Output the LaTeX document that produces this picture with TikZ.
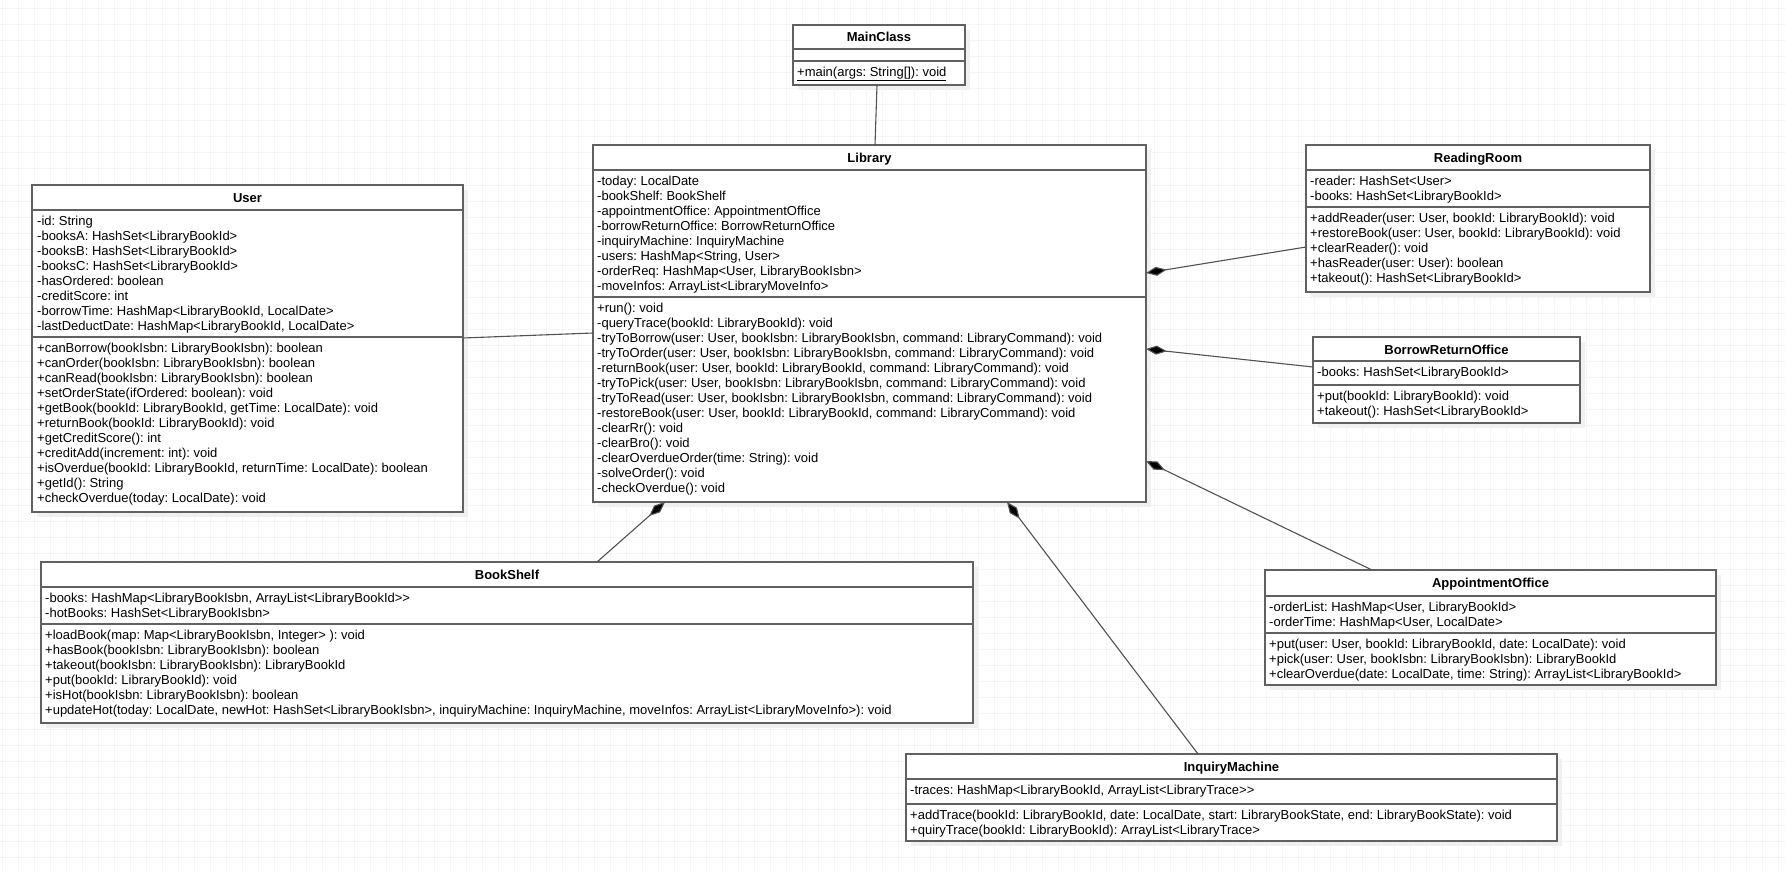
\documentclass[tikz,border=0pt]{standalone}
\usepackage{fontspec}
\setmainfont{Liberation Sans}
\usetikzlibrary{arrows.meta}
\frenchspacing
\newcommand\umlbox[8]{%
  \fill[shadowc] (#2+5,#3+5) rectangle (#4+5,#5+5);
  \node[classbox, minimum width={#4-#2}, minimum height={#5-#3}, anchor=north west] (#1) at (#2,#3) {};
  \draw[boxline] (#2,#6) -- (#4,#6);
  \draw[boxline] (#2,#7) -- (#4,#7);
  \node[titletext] (#1-title) at ({(#2+#4)/2},#3+17) {#8};
}
\begin{document}
\begin{tikzpicture}[x=1pt,y=-1pt,
  classbox/.style={draw=black!62, line width=1.3pt, fill=white, inner sep=0pt, outer sep=0pt, rectangle},
  boxline/.style={draw=black!62, line width=1.3pt},
  titletext/.style={font=\fontsize{13}{15}\selectfont\bfseries\frenchspacing, inner sep=0pt, anchor=base},
  membertext/.style={font=\fontsize{13}{15}\selectfont\frenchspacing, align=left, inner sep=0pt, anchor=north west},
  assoc/.style={draw=black!68, line width=1.1pt},
  comp/.style={assoc, {Diamond[length=21pt,width=9pt,fill=black]}-},
  shadowc/.style={fill=black!6},
  gridc/.style={draw=black!4, line width=1pt}]
\useasboundingbox (0,0) rectangle (1786,872);
\fill[white] (0,0) rectangle (1786,872);
\foreach \gx in {2,18,...,1786} \draw[gridc] (\gx,0) -- (\gx,872);
\foreach \gy in {9,25,...,872} \draw[gridc] (0,\gy) -- (1786,\gy);

% MainClass
\umlbox{main}{793}{25}{965}{85}{49}{61}{MainClass}
\node[membertext] (main-m) at (797,65.5) {\strut\underline{+main(args: String[]): void}};

% Library
\umlbox{lib}{593}{145}{1146}{502}{170}{297}{Library}
\node[membertext] (lib-a) at (597,174.5) {\strut -today: LocalDate\\
-bookShelf: BookShelf\\
-appointmentOffice: AppointmentOffice\\
-borrowReturnOffice: BorrowReturnOffice\\
-inquiryMachine: InquiryMachine\\
-users: HashMap<String, User>\\
-orderReq: HashMap<User, LibraryBookIsbn>\\
-moveInfos: ArrayList<LibraryMoveInfo>};
\node[membertext] (lib-m) at (597,301.5) {\strut +run(): void\\
-queryTrace(bookId: LibraryBookId): void\\
-tryToBorrow(user: User, bookIsbn: LibraryBookIsbn, command: LibraryCommand): void\\
-tryToOrder(user: User, bookIsbn: LibraryBookIsbn, command: LibraryCommand): void\\
-returnBook(user: User, bookId: LibraryBookId, command: LibraryCommand): void\\
-tryToPick(user: User, bookIsbn: LibraryBookIsbn, command: LibraryCommand): void\\
-tryToRead(user: User, bookIsbn: LibraryBookIsbn, command: LibraryCommand): void\\
-restoreBook(user: User, bookId: LibraryBookId, command: LibraryCommand): void\\
-clearRr(): void\\
-clearBro(): void\\
-clearOverdueOrder(time: String): void\\
-solveOrder(): void\\
-checkOverdue(): void};

% User
\umlbox{user}{32}{185}{463}{512}{210}{337}{User}
\node[membertext] (user-a) at (37,214.5) {\strut -id: String\\
-booksA: HashSet<LibraryBookId>\\
-booksB: HashSet<LibraryBookId>\\
-booksC: HashSet<LibraryBookId>\\
-hasOrdered: boolean\\
-creditScore: int\\
-borrowTime: HashMap<LibraryBookId, LocalDate>\\
-lastDeductDate: HashMap<LibraryBookId, LocalDate>};
\node[membertext] (user-m) at (37,341.5) {\strut +canBorrow(bookIsbn: LibraryBookIsbn): boolean\\
+canOrder(bookIsbn: LibraryBookIsbn): boolean\\
+canRead(bookIsbn: LibraryBookIsbn): boolean\\
+setOrderState(ifOrdered: boolean): void\\
+getBook(bookId: LibraryBookId, getTime: LocalDate): void\\
+returnBook(bookId: LibraryBookId): void\\
+getCreditScore(): int\\
+creditAdd(increment: int): void\\
+isOverdue(bookId: LibraryBookId, returnTime: LocalDate): boolean\\
+getId(): String\\
+checkOverdue(today: LocalDate): void};

% ReadingRoom
\umlbox{rr}{1306}{145}{1650}{292}{170}{207}{ReadingRoom}
\node[membertext] (rr-a) at (1310,174.5) {\strut -reader: HashSet<User>\\
-books: HashSet<LibraryBookId>};
\node[membertext] (rr-m) at (1310,211.5) {\strut +addReader(user: User, bookId: LibraryBookId): void\\
+restoreBook(user: User, bookId: LibraryBookId): void\\
+clearReader(): void\\
+hasReader(user: User): boolean\\
+takeout(): HashSet<LibraryBookId>};

% BorrowReturnOffice
\umlbox{bro}{1313}{337}{1580}{423}{361}{385}{BorrowReturnOffice}
\node[membertext] (bro-a) at (1317,365.5) {\strut -books: HashSet<LibraryBookId>};
\node[membertext] (bro-m) at (1317,389.5) {\strut +put(bookId: LibraryBookId): void\\
+takeout(): HashSet<LibraryBookId>};

% BookShelf
\umlbox{bs}{41}{562}{973}{723}{587}{624}{BookShelf}
\node[membertext] (bs-a) at (45,591.5) {\strut -books: HashMap<LibraryBookIsbn, ArrayList<LibraryBookId>{}>\\
-hotBooks: HashSet<LibraryBookIsbn>};
\node[membertext] (bs-m) at (45,628.5) {\strut +loadBook(map: Map<LibraryBookIsbn, Integer> ): void\\
+hasBook(bookIsbn: LibraryBookIsbn): boolean\\
+takeout(bookIsbn: LibraryBookIsbn): LibraryBookId\\
+put(bookId: LibraryBookId): void\\
+isHot(bookIsbn: LibraryBookIsbn): boolean\\
+updateHot(today: LocalDate, newHot: HashSet<LibraryBookIsbn>, inquiryMachine: InquiryMachine, moveInfos: ArrayList<LibraryMoveInfo>): void};

% AppointmentOffice
\umlbox{ao}{1265}{570}{1716}{685}{596}{633}{AppointmentOffice}
\node[membertext] (ao-a) at (1269,600.5) {\strut -orderList: HashMap<User, LibraryBookId>\\
-orderTime: HashMap<User, LocalDate>};
\node[membertext] (ao-m) at (1269,637.5) {\strut +put(user: User, bookId: LibraryBookId, date: LocalDate): void\\
+pick(user: User, bookIsbn: LibraryBookIsbn): LibraryBookId\\
+clearOverdue(date: LocalDate, time: String): ArrayList<LibraryBookId>};

% InquiryMachine
\umlbox{im}{906}{754}{1557}{841}{779}{804}{InquiryMachine}
\node[membertext] (im-a) at (910,783.5) {\strut -traces: HashMap<LibraryBookId, ArrayList<LibraryTrace>{}>};
\node[membertext] (im-m) at (910,808.5) {\strut +addTrace(bookId: LibraryBookId, date: LocalDate, start: LibraryBookState, end: LibraryBookState): void\\
+quiryTrace(bookId: LibraryBookId): ArrayList<LibraryTrace>};

% connectors
\draw[assoc] ([xshift=84pt]main.south west) -- ([xshift=282pt]lib.north west);
\draw[assoc] ([yshift=-153pt]user.north east) -- ([yshift=-188pt]lib.north west);
\draw[comp] ([yshift=-128pt]lib.north east) -- ([yshift=-102pt]rr.north west);
\draw[comp] ([yshift=-204pt]lib.north east) -- ([yshift=-30pt]bro.north west);
\draw[comp] ([yshift=-316pt]lib.north east) -- ([xshift=107pt]ao.north west);
\draw[comp] ([xshift=414pt]lib.south west) -- ([xshift=292pt]im.north west);
\draw[comp] ([xshift=72pt]lib.south west) -- ([xshift=556pt]bs.north west);
\end{tikzpicture}
\end{document}
